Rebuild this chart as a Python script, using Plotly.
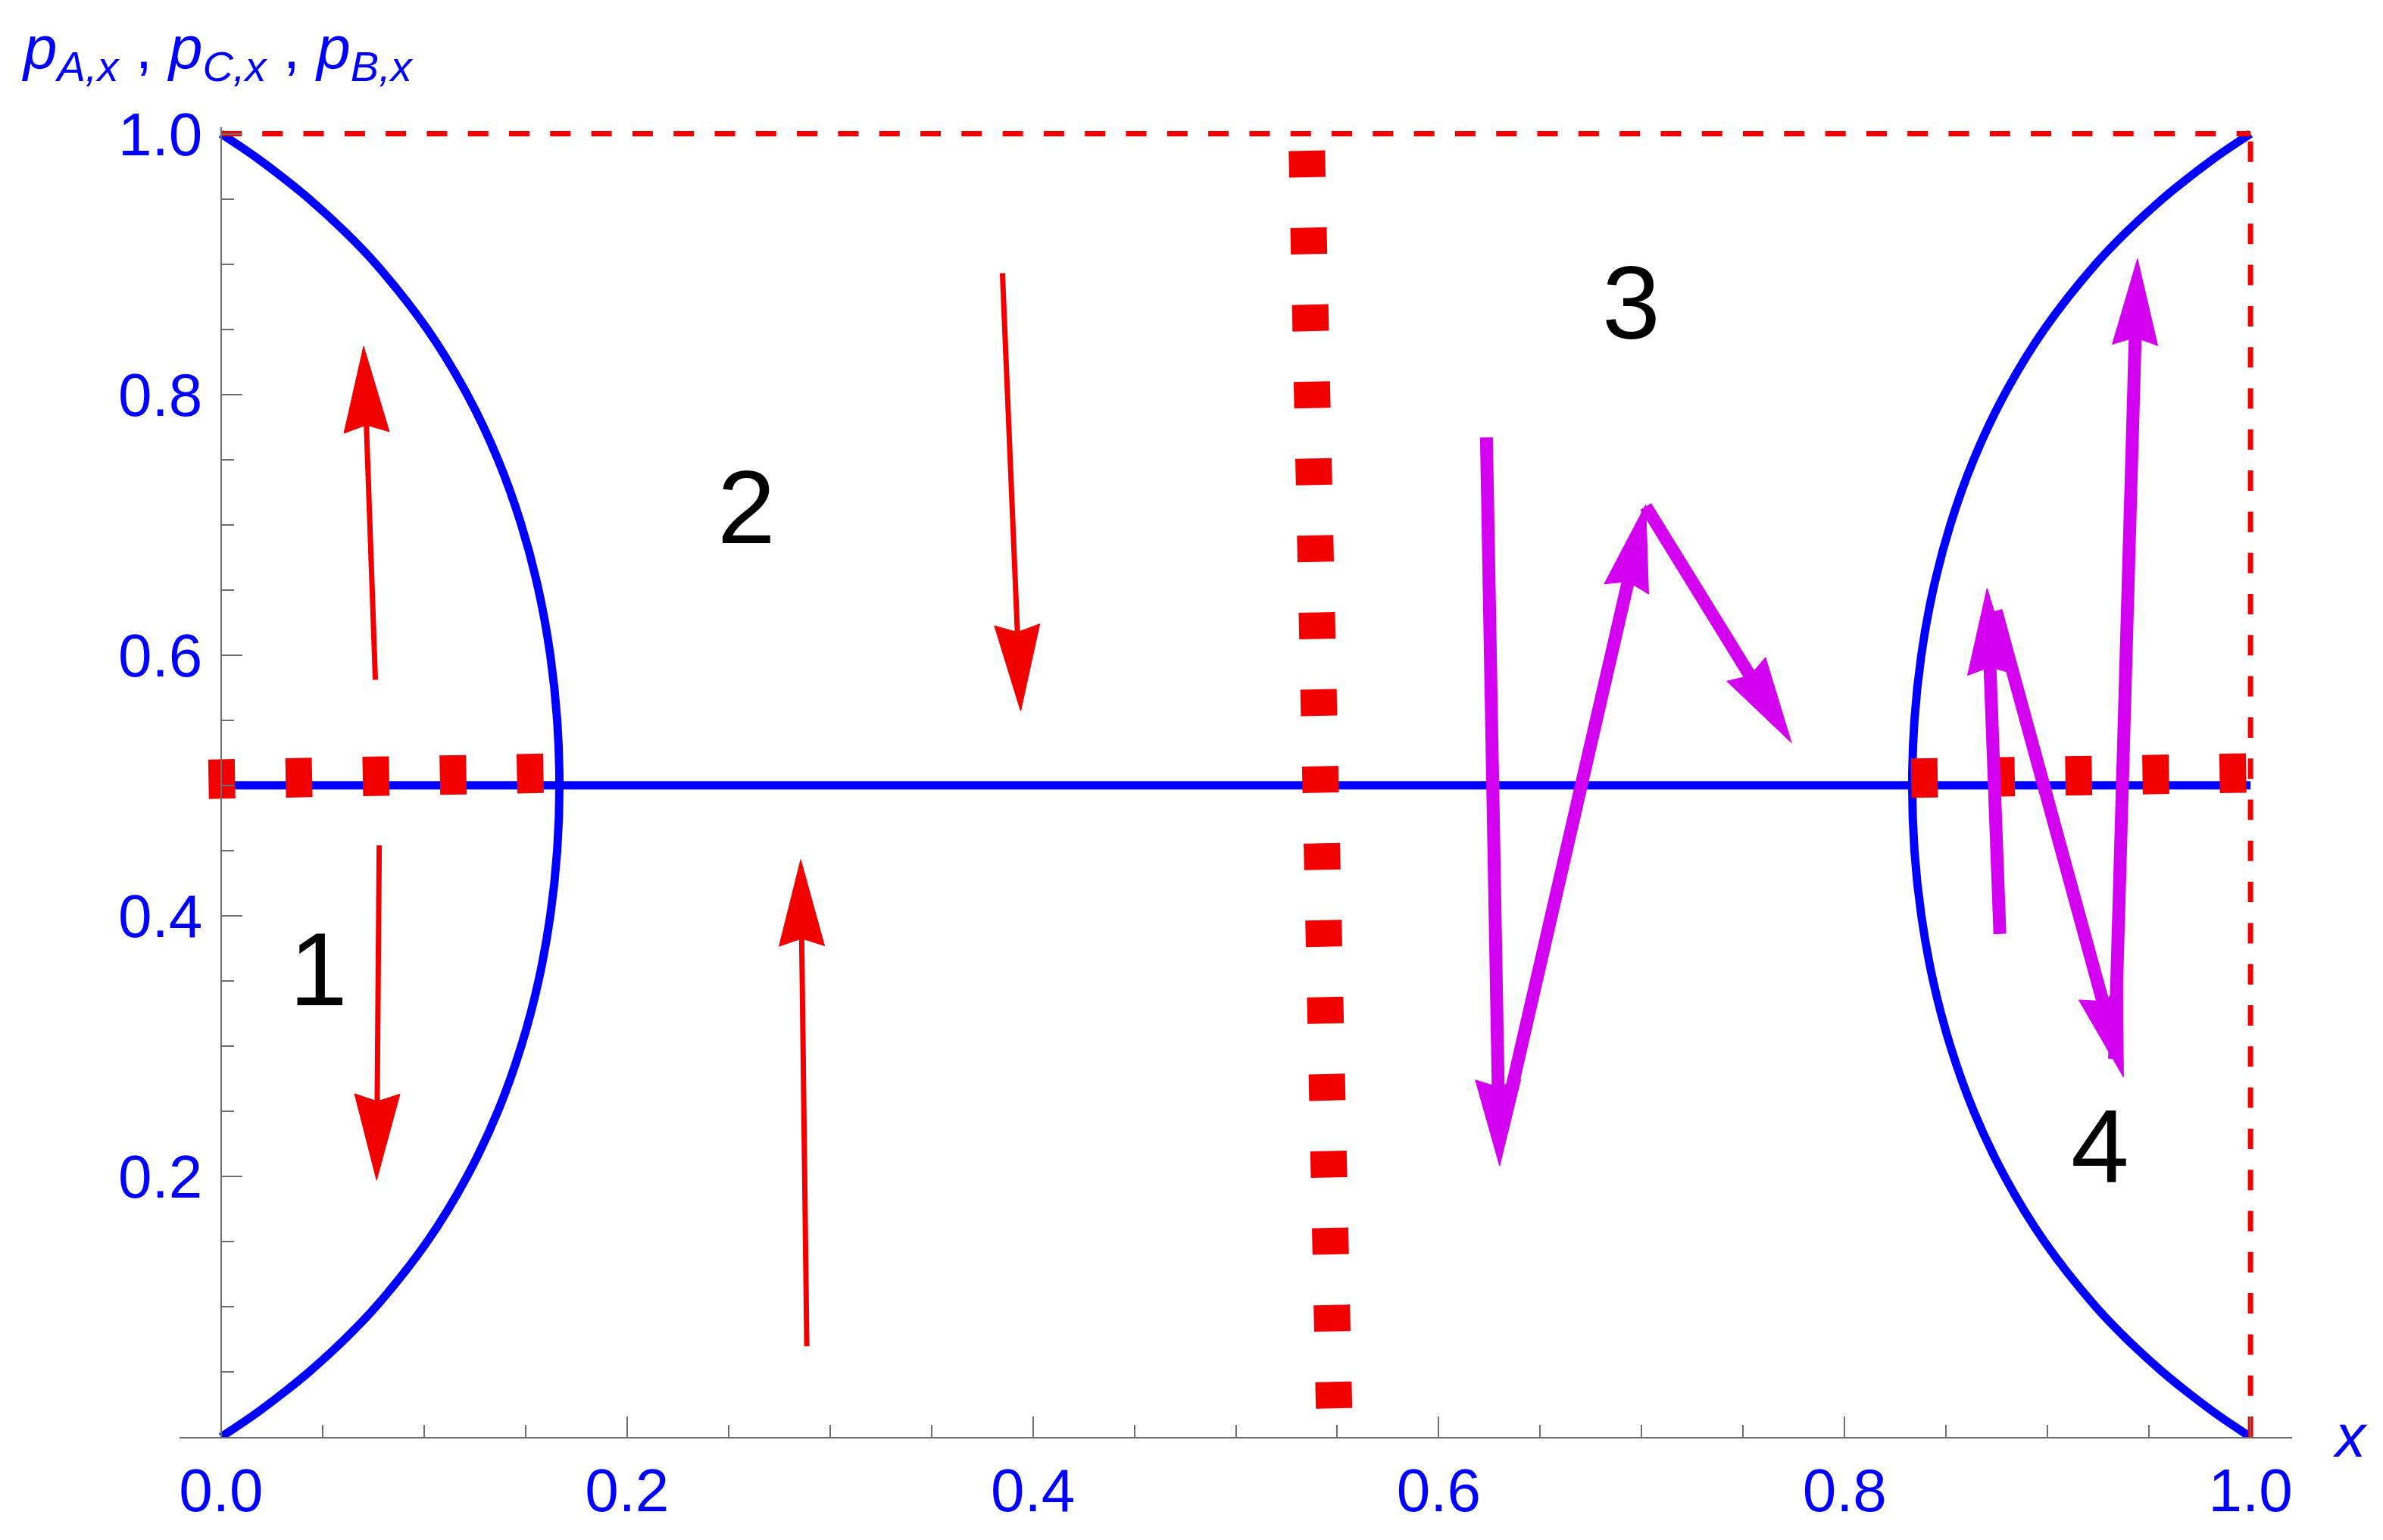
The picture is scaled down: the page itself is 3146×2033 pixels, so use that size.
import numpy as np
import plotly.graph_objects as go

# canvas and plot area
W, H = 3146, 2033
M_L, M_R, M_T, M_B = 237, 120, 168, 136
X_RANGE = [-0.0205, 1.0205]
Y_RANGE = [0.0, 1.005]
SX = (W - M_L - M_R) / (X_RANGE[1] - X_RANGE[0])
SY = (H - M_T - M_B) / (Y_RANGE[1] - Y_RANGE[0])

BLUE = "#0000FF"
RED = "#F20000"
MAGENTA = "#D400F0"
AXIS = "#6E6E6E"
FONT = "Liberation Sans, Arial, sans-serif"

# ---- data ----
# left boundary curve (region 1), top to bottom
left_arc_x = [0.0, 0.0097, 0.0189, 0.0316, 0.0434, 0.0609, 0.0763, 0.1016, 0.1212, 0.1364,
              0.1479, 0.1564, 0.1622, 0.1656, 0.1667, 0.1656, 0.1622, 0.1564, 0.1479,
              0.1364, 0.1212, 0.1016, 0.0763, 0.0609, 0.0434, 0.0316, 0.0189, 0.0097, 0.0]
left_arc_y = [1.0, 0.99, 0.98, 0.965, 0.95, 0.925, 0.90, 0.85, 0.80, 0.75,
              0.70, 0.65, 0.60, 0.55, 0.50, 0.45, 0.40, 0.35, 0.30,
              0.25, 0.20, 0.15, 0.10, 0.075, 0.05, 0.035, 0.02, 0.01, 0.0]
# right boundary curve (region 4)
right_arc_x = [1.0, 0.9903, 0.9811, 0.9684, 0.9566, 0.9391, 0.9237, 0.8984, 0.8788, 0.8636,
               0.8521, 0.8436, 0.8378, 0.8344, 0.8333, 0.8344, 0.8378, 0.8436, 0.8521,
               0.8636, 0.8788, 0.8984, 0.9237, 0.9391, 0.9566, 0.9684, 0.9811, 0.9903, 1.0]
right_arc_y = left_arc_y

# horizontal blue line
mid_x = [0.0, 1.0]
mid_y = [0.5, 0.5]

# thick red dotted lines
dot_left_x = [-0.0062, 0.1667]
dot_left_y = [0.5047, 0.5095]
dot_right_x = [0.8328, 1.0]
dot_right_y = [0.5055, 0.5095]
dot_vert_x = [0.5350, 0.5484]
dot_vert_y = [0.987, 0.0215]

# thin red dashed frame
dash_top_x = [0.0, 1.0]
dash_top_y = [1.0, 1.0]
dash_right_x = [1.0, 1.0]
dash_right_y = [0.0, 1.0]

# red arrows (tail -> tip)
red_tail_x = [0.0760, 0.0779, 0.3850, 0.2886]
red_tail_y = [0.581, 0.454, 0.893, 0.0696]
red_tip_x = [0.0702, 0.0766, 0.3940, 0.2856]
red_tip_y = [0.837, 0.197, 0.557, 0.443]

# magenta arrows (tail -> tip)
mag_tail_x = [0.6235, 0.6310, 0.7020, 0.8765, 0.8746, 0.9330]
mag_tail_y = [0.767, 0.234, 0.714, 0.386, 0.634, 0.290]
mag_tip_x = [0.6300, 0.7020, 0.7738, 0.8702, 0.9374, 0.9443]
mag_tip_y = [0.208, 0.7153, 0.5327, 0.6513, 0.2761, 0.9042]

# region labels
region_text = ["1", "2", "3", "4"]
region_x = [0.048, 0.259, 0.695, 0.926]
region_y = [0.3595, 0.714, 0.8705, 0.2235]

x_ticks = [0.0, 0.2, 0.4, 0.6, 0.8, 1.0]
y_ticks = [0.2, 0.4, 0.6, 0.8, 1.0]
minor_ticks = [round(v, 2) for v in np.arange(0.05, 1.0, 0.05) if round(v * 20) % 4 != 0]


def arrows(tx, ty, hx, hy, head_len=114, head_half=30, notch=10):
    """shafts and arrowhead polygons (None separated) in data coords"""
    sx, sy, px, py = [], [], [], []
    for x0, y0, x1, y1 in zip(tx, ty, hx, hy):
        dx, dy = (x1 - x0) * SX, (y1 - y0) * SY
        d = np.hypot(dx, dy)
        ux, uy = dx / d, dy / d
        nx, ny = -uy, ux

        def pt(a, b):
            return x1 + (-a * ux + b * nx) / SX, y1 + (-a * uy + b * ny) / SY

        bl = pt(head_len, head_half)
        br = pt(head_len, -head_half)
        nt = pt(head_len - notch, 0)
        se = pt(head_len - notch - 2, 0)
        sx += [x0, se[0], None]
        sy += [y0, se[1], None]
        px += [x1, bl[0], nt[0], br[0], x1, None]
        py += [y1, bl[1], nt[1], br[1], y1, None]
    return sx, sy, px, py


fig = go.Figure()

# blue curves
fig.add_trace(go.Scatter(x=mid_x, y=mid_y, mode="lines", line=dict(color=BLUE, width=11)))
fig.add_trace(go.Scatter(x=left_arc_x, y=left_arc_y, mode="lines",
                         line=dict(color=BLUE, width=11, shape="spline", smoothing=1.0)))
fig.add_trace(go.Scatter(x=right_arc_x, y=right_arc_y, mode="lines",
                         line=dict(color=BLUE, width=11, shape="spline", smoothing=1.0)))

# red dotted
fig.add_trace(go.Scatter(x=dot_left_x, y=dot_left_y, mode="lines",
                         line=dict(color=RED, width=52, dash="35px,66.8px")))
fig.add_trace(go.Scatter(x=dot_right_x, y=dot_right_y, mode="lines",
                         line=dict(color=RED, width=52, dash="35px,66.8px")))
fig.add_trace(go.Scatter(x=dot_vert_x, y=dot_vert_y, mode="lines",
                         line=dict(color=RED, width=48, dash="35px,66.6px")))

# red dashed frame
fig.add_trace(go.Scatter(x=dash_top_x, y=dash_top_y, mode="lines",
                         line=dict(color=RED, width=7, dash="27px,27.3px")))
fig.add_trace(go.Scatter(x=dash_right_x, y=dash_right_y, mode="lines",
                         line=dict(color=RED, width=7, dash="27px,27.3px")))

# arrows
for tx, ty, hx, hy, col, lw in [(red_tail_x, red_tail_y, red_tip_x, red_tip_y, RED, 7),
                                (mag_tail_x, mag_tail_y, mag_tip_x, mag_tip_y, MAGENTA, 17)]:
    sx, sy, px, py = arrows(tx, ty, hx, hy)
    fig.add_trace(go.Scatter(x=sx, y=sy, mode="lines", line=dict(color=col, width=lw)))
    fig.add_trace(go.Scatter(x=px, y=py, mode="lines", fill="toself", fillcolor=col,
                             line=dict(color=col, width=1)))

# region numbers
for t, x, y in zip(region_text, region_x, region_y):
    fig.add_annotation(x=x, y=y, text=t, showarrow=False, xanchor="center", yanchor="middle",
                       font=dict(family=FONT, size=138, color="black"))

# axis labels
ylab = ("<i>p</i><sub><i>A,x</i></sub> , <i>p</i><sub><i>C,x</i></sub>"
        " , <i>p</i><sub><i>B,x</i></sub>")
fig.add_annotation(xref="paper", yref="paper", x=-0.0753, y=1.0575, text=ylab, showarrow=False,
                   xanchor="left", yanchor="middle", font=dict(family=FONT, size=80, color=BLUE))
fig.add_annotation(xref="paper", yref="paper", x=1.0275, y=0.0007, text="<i>x</i>", showarrow=False,
                   xanchor="center", yanchor="middle", font=dict(family=FONT, size=80, color=BLUE))

axis_common = dict(showline=True, linecolor=AXIS, linewidth=1.5, ticks="inside", ticklen=27,
                   tickwidth=1.5, tickcolor=AXIS, showgrid=False, zeroline=False,
                   tickfont=dict(family=FONT, size=80, color=BLUE), tickformat=".1f",
                   minor=dict(tickvals=minor_ticks, ticks="inside", ticklen=16,
                              tickwidth=1.5, tickcolor=AXIS, showgrid=False))

fig.update_layout(
    width=W, height=H,
    margin=dict(l=M_L, r=M_R, t=M_T, b=M_B),
    paper_bgcolor="white", plot_bgcolor="white",
    showlegend=False,
    xaxis=dict(range=X_RANGE, tickvals=x_ticks, **axis_common),
    yaxis=dict(range=Y_RANGE, tickvals=y_ticks, anchor="free", position=0.0197, side="left",
               ticklabelstandoff=8, **axis_common),
)

fig.write_html("out.html", config={"displayModeBar": False},
               post_script="document.body.style.margin='0';")
